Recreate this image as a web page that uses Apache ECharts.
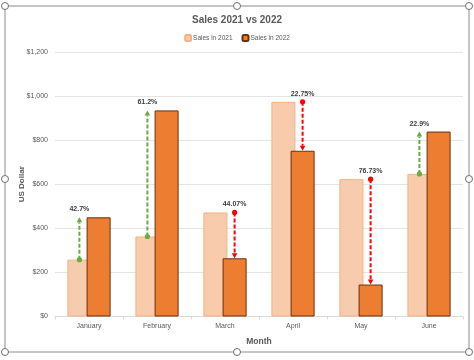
<!DOCTYPE html>
<html>
<head>
<meta charset="utf-8">
<script src="https://cdn.jsdelivr.net/npm/echarts@6/dist/echarts.min.js"></script>
<style>html,body{margin:0;padding:0;background:#fff}#c{width:474px;height:360px}</style>
</head>
<body>
<div id="c"></div>
<script>
const categories = ['January', 'February', 'March', 'April', 'May', 'June'];
const sales2021 = [258, 363, 472, 974, 623, 647];
const sales2022 = [450, 935, 264, 752, 145, 839];
const changeLabels = ['42.7%', '61.2%', '44.07%', '22.75%', '76.73%', '22.9%'];
const yTicks = [0, 200, 400, 600, 800, 1000, 1200];

const FONT = '"Liberation Sans", Arial, sans-serif';
const BAR_W = 24;
const GAP = -0.2;
const BAR_OFFSET = (BAR_W + BAR_W * GAP) / 2;

const chart = echarts.init(document.getElementById('c'));

function renderArrow(params, api) {
  const i = api.value(0);
  const a = api.value(1), b = api.value(2);
  const up = b > a;
  const p1 = api.coord([i, a]);
  const p2 = api.coord([i, b]);
  const x = p1[0] + (up ? -BAR_OFFSET : BAR_OFFSET);
  const color = up ? '#6AAB46' : '#FF0000';
  const dir = up ? -1 : 1;
  const head = 5;
  const yTip = p2[1];
  const yEnd = yTip - dir * head;
  const topY = Math.min(p1[1], p2[1]);
  return {
    type: 'group',
    children: [
      { type: 'line', shape: { x1: x, y1: p1[1], x2: x, y2: yEnd },
        style: { stroke: color, lineWidth: 2, lineDash: [4, 2] } },
      { type: 'circle', shape: { cx: x, cy: p1[1], r: 2.6 }, style: { fill: color } },
      { type: 'polygon', shape: { points: [[x - 2.8, yEnd], [x + 2.8, yEnd], [x, yTip]] },
        style: { fill: color } },
      { type: 'text', style: { text: changeLabels[i], x: x, y: topY - 8, align: 'center',
        verticalAlign: 'middle', font: 'bold 7px ' + FONT, fill: '#404040' } }
    ]
  };
}

const handles = [[5,6],[237,6],[469,6],[5,179],[469,179],[5,352],[237,352],[469,352]];

chart.setOption({
  animation: false,
  backgroundColor: '#fff',
  textStyle: { fontFamily: FONT },
  title: {
    text: 'Sales 2021 vs 2022', left: 'center', top: 10,
    textStyle: { fontSize: 10, fontWeight: 'bold', color: '#595959', fontFamily: FONT }
  },
  legend: {
    data: ['Sales in 2021', 'Sales in 2022'], top: 29, left: 'center',
    itemWidth: 6, itemHeight: 6, itemGap: 9,
    textStyle: { fontSize: 6.5, color: '#595959', padding: [0, 0, 0, -3] }
  },
  grid: { left: 55, right: 11, top: 52, bottom: 43.5 },
  xAxis: {
    type: 'category', data: categories,
    name: 'Month', nameLocation: 'middle', nameGap: 21,
    nameTextStyle: { fontSize: 8.5, fontWeight: 'bold', color: '#595959' },
    axisLine: { lineStyle: { color: '#D9D9D9' } },
    axisTick: { show: true, length: 3, lineStyle: { color: '#D9D9D9' } },
    axisLabel: { fontSize: 7, color: '#595959', margin: 6 }
  },
  yAxis: {
    type: 'value', min: 0, max: 1200, interval: 200,
    name: 'US Dollar', nameLocation: 'middle', nameGap: 29, nameRotate: 90,
    nameMoveOverlap: false,
    nameTextStyle: { fontSize: 8, fontWeight: 'bold', color: '#595959' },
    axisLine: { show: false }, axisTick: { show: false },
    splitLine: { lineStyle: { color: '#E4E4E4' } },
    axisLabel: { fontSize: 7, color: '#595959', margin: 7,
      formatter: v => '$' + v.toLocaleString('en-US') }
  },
  series: [
    { name: 'Sales in 2021', type: 'bar', data: sales2021, barWidth: BAR_W, barGap: '-20%',
      itemStyle: { color: '#F8CBAD', borderColor: '#F4B183', borderWidth: 1 }, z: 2 },
    { name: 'Sales in 2022', type: 'bar', data: sales2022, barWidth: BAR_W,
      itemStyle: { color: '#ED7D31', borderColor: '#6B2F0A', borderWidth: 1 }, z: 3 },
    { name: 'change', type: 'custom', renderItem: renderArrow, z: 5,
      data: categories.map((c, i) => [i, sales2021[i], sales2022[i]]),
      encode: { x: 0, y: [1, 2] }, tooltip: { show: false } }
  ],
  graphic: [
    { type: 'rect', shape: { x: 5, y: 6, width: 464, height: 346 },
      style: { fill: 'none', stroke: '#8C8C8C', lineWidth: 1 }, z: 10 }
  ].concat(handles.map(h => ({
    type: 'circle', shape: { cx: h[0], cy: h[1], r: 3.5 },
    style: { fill: '#fff', stroke: '#707070', lineWidth: 1 }, z: 11
  })))
});
</script>
</body>
</html>
